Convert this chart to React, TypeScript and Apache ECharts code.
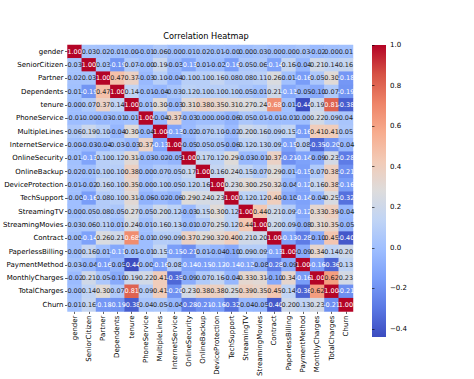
import React, { useEffect, useRef } from "react";
import * as echarts from "echarts";

const variables = [
  "gender", "SeniorCitizen", "Partner", "Dependents", "tenure", "PhoneService",
  "MultipleLines", "InternetService", "OnlineSecurity", "OnlineBackup",
  "DeviceProtection", "TechSupport", "StreamingTV", "StreamingMovies", "Contract",
  "PaperlessBilling", "PaymentMethod", "MonthlyCharges", "TotalCharges", "Churn",
];

// Upper triangle of the correlation matrix: row i holds the values for columns i+1..19
const upperGender = [0.03, 0.02, 0.01, 0.00, -0.01, 0.06, 0.00, 0.01, 0.02, 0.01, -0.001, 0.00, 0.03, 0.00, 0.00, 0.03, -0.02, 0.00, 0.01];
const upperSeniorCitizen = [0.03, -0.19, 0.07, -0.001, 0.19, -0.03, -0.13, 0.01, -0.02, -0.16, 0.05, 0.06, -0.14, 0.16, -0.04, 0.21, 0.14, 0.16];
const upperPartner = [0.47, 0.37, -0.03, 0.10, -0.04, 0.10, 0.10, 0.16, 0.08, 0.08, 0.11, 0.26, 0.01, -0.16, 0.05, 0.30, -0.18];
const upperDependents = [0.14, -0.01, -0.04, 0.03, 0.12, 0.10, 0.10, 0.10, 0.05, 0.01, 0.21, -0.11, -0.05, -0.10, 0.07, -0.19];
const upperTenure = [0.01, 0.30, -0.03, 0.31, 0.38, 0.35, 0.31, 0.27, 0.24, 0.68, 0.01, -0.44, 0.19, 0.81, -0.38];
const upperPhoneService = [-0.04, 0.37, -0.03, 0.00, 0.00, -0.06, 0.05, 0.01, -0.01, -0.01, 0.00, 0.22, 0.09, 0.04];
const upperMultipleLines = [-0.13, -0.02, 0.07, 0.10, -0.02, 0.20, 0.16, 0.09, 0.15, -0.16, 0.41, 0.41, 0.05];
const upperInternetService = [-0.05, 0.05, 0.05, -0.06, 0.12, 0.13, 0.09, -0.15, 0.08, -0.35, -0.20, -0.04];
const upperOnlineSecurity = [0.17, 0.12, 0.29, -0.03, -0.01, 0.37, -0.21, -0.14, -0.09, 0.23, -0.28];
const upperOnlineBackup = [0.16, 0.24, 0.15, 0.07, 0.29, 0.01, -0.15, 0.07, 0.38, -0.21];
const upperDeviceProtection = [0.23, 0.30, 0.25, 0.32, -0.04, -0.12, 0.16, 0.38, -0.16];
const upperTechSupport = [0.12, 0.12, 0.40, -0.10, -0.14, -0.04, 0.25, -0.32];
const upperStreamingTV = [0.44, 0.21, 0.09, -0.12, 0.33, 0.39, -0.04];
const upperStreamingMovies = [0.20, 0.09, -0.08, 0.31, 0.35, -0.05];
const upperContract = [-0.13, -0.28, -0.10, 0.45, -0.40];
const upperPaperlessBilling = [-0.09, 0.34, 0.14, 0.20];
const upperPaymentMethod = [-0.16, -0.36, 0.13];
const upperMonthlyCharges = [0.62, 0.23];
const upperTotalCharges = [-0.21];

const upperRows = [
  upperGender, upperSeniorCitizen, upperPartner, upperDependents, upperTenure,
  upperPhoneService, upperMultipleLines, upperInternetService, upperOnlineSecurity,
  upperOnlineBackup, upperDeviceProtection, upperTechSupport, upperStreamingTV,
  upperStreamingMovies, upperContract, upperPaperlessBilling, upperPaymentMethod,
  upperMonthlyCharges, upperTotalCharges, [],
];

const colorbarTicks = [-0.4, -0.2, 0.0, 0.2, 0.4, 0.6, 0.8, 1.0];

const coolwarm = [
  "#3b4cc0", "#5a78e4", "#7b9ff9", "#9ebeff", "#c0d4f5", "#dddcdc",
  "#f2cbb7", "#f7ac8e", "#ee8468", "#d65244", "#b40426",
];

const FONT = "DejaVu Sans";

function buildMatrix(): number[][] {
  const n = variables.length;
  const m: number[][] = [];
  for (let i = 0; i < n; i++) m.push(new Array(n).fill(0));
  for (let i = 0; i < n; i++) {
    m[i][i] = 1;
    const row = upperRows[i];
    for (let k = 0; k < row.length; k++) {
      const j = i + 1 + k;
      m[i][j] = row[k];
      m[j][i] = row[k];
    }
  }
  return m;
}

function hexToRgb(h: string): number[] {
  return [1, 3, 5].map((p) => parseInt(h.slice(p, p + 2), 16) / 255);
}

function cmap(t: number): number[] {
  const tt = Math.max(0, Math.min(1, t)) * (coolwarm.length - 1);
  const i = Math.min(Math.floor(tt), coolwarm.length - 2);
  const f = tt - i;
  const a = hexToRgb(coolwarm[i]);
  const b = hexToRgb(coolwarm[i + 1]);
  return a.map((v, k) => v + (b[k] - v) * f);
}

function luminance(rgb: number[]): number {
  const lin = rgb.map((c) => (c <= 0.03928 ? c / 12.92 : Math.pow((c + 0.055) / 1.055, 2.4)));
  return lin[0] * 0.2126 + lin[1] * 0.7152 + lin[2] * 0.0722;
}

export default function App() {
  const ref = useRef<HTMLDivElement>(null);

  useEffect(() => {
    if (!ref.current) return;
    const chart = echarts.init(ref.current, undefined, { renderer: "svg" });
    const matrix = buildMatrix();
    let vmin = Infinity;
    matrix.forEach((r) => r.forEach((v) => { if (v < vmin) vmin = v; }));
    const vmax = 1;

    const data: any[] = [];
    for (let i = 0; i < variables.length; i++) {
      for (let j = 0; j < variables.length; j++) {
        const v = matrix[i][j];
        const lum = luminance(cmap((v - vmin) / (vmax - vmin)));
        data.push({
          value: [j, i, v],
          label: { color: lum > 0.408 ? "#262626" : "#ffffff" },
        });
      }
    }

    const fmtBar = (v: number) => {
      const s = Math.abs(v).toFixed(1);
      return v < -1e-9 ? "\u2212" + s : s;
    };

    const gradientStops = coolwarm.map((c, i) => ({ offset: i / (coolwarm.length - 1), color: c }));

    chart.setOption({
      animation: false,
      backgroundColor: "#ffffff",
      title: {
        text: "Correlation Heatmap",
        left: 206,
        top: 32,
        textAlign: "center",
        padding: 0,
        textStyle: { fontSize: 8.2, fontWeight: "normal", color: "#000", fontFamily: FONT },
      },
      grid: [
        { left: 59, top: 45, width: 294, height: 292 },
        { left: 372, top: 45, width: 14, height: 292 },
      ],
      xAxis: [
        {
          type: "category",
          gridIndex: 0,
          data: variables,
          position: "bottom",
          axisLine: { show: false },
          splitLine: { show: false },
          axisTick: { show: true, alignWithLabel: true, length: 2.5, lineStyle: { color: "#000", width: 0.6 } },
          axisLabel: { rotate: 90, fontSize: 7, color: "#000", margin: 4, fontFamily: FONT, interval: 0 },
        },
        { type: "value", gridIndex: 1, show: false, min: 0, max: 1 },
      ],
      yAxis: [
        {
          type: "category",
          gridIndex: 0,
          data: variables,
          inverse: true,
          axisLine: { show: false },
          splitLine: { show: false },
          axisTick: { show: true, alignWithLabel: true, length: 2.5, lineStyle: { color: "#000", width: 0.6 } },
          axisLabel: { fontSize: 7, color: "#000", margin: 4, fontFamily: FONT, interval: 0 },
        },
        {
          type: "value",
          gridIndex: 1,
          position: "right",
          min: vmin,
          max: vmax,
          z: 10,
          axisLine: { show: false },
          splitLine: { show: false },
          axisTick: { show: true, length: 2.5, customValues: colorbarTicks, lineStyle: { color: "#000", width: 0.6 } },
          axisLabel: {
            customValues: colorbarTicks,
            formatter: (v: number) => fmtBar(v),
            fontSize: 7,
            color: "#000",
            margin: 4,
            fontFamily: FONT,
          },
        },
      ],
      visualMap: {
        type: "continuous",
        show: false,
        seriesIndex: 0,
        dimension: 2,
        min: vmin,
        max: vmax,
        inRange: { color: coolwarm },
      },
      series: [
        {
          type: "heatmap",
          xAxisIndex: 0,
          yAxisIndex: 0,
          data,
          label: {
            show: true,
            fontSize: 6.5,
            fontFamily: FONT,
            formatter: (p: any) => Number(p.value[2]).toFixed(2),
          },
          itemStyle: { borderWidth: 0 },
          emphasis: { disabled: true },
        },
        {
          type: "custom",
          xAxisIndex: 1,
          yAxisIndex: 1,
          silent: true,
          clip: false,
          data: [[0, vmin, 1, vmax]],
          renderItem: (_params: any, api: any) => {
            const p0 = api.coord([api.value(0), api.value(3)]);
            const p1 = api.coord([api.value(2), api.value(1)]);
            return {
              type: "rect",
              shape: { x: p0[0], y: p0[1], width: p1[0] - p0[0], height: p1[1] - p0[1] },
              style: { fill: new echarts.graphic.LinearGradient(0, 1, 0, 0, gradientStops) },
            };
          },
        },
      ],
    });

    return () => chart.dispose();
  }, []);

  return (
    <div
      ref={ref}
      style={{ position: "fixed", left: 0, top: 0, width: 474, height: 379, background: "#fff" }}
    />
  );
}
